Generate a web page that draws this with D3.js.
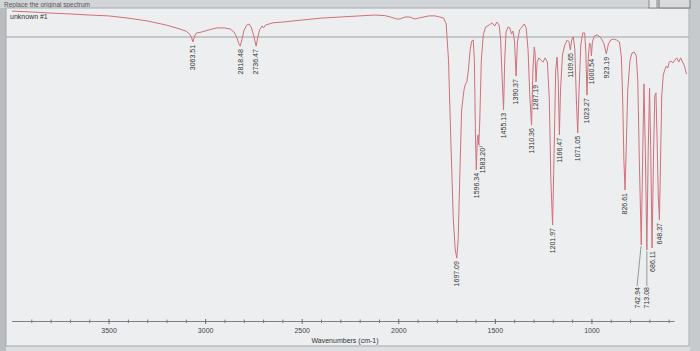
<!DOCTYPE html>
<html>
<head>
<meta charset="utf-8">
<script src="https://cdn.jsdelivr.net/npm/d3@7"></script>
<style>
  body { margin: 0; background: #dcdfe1; }
  svg { display: block; font-family: "Liberation Sans", Arial, sans-serif; }
</style>
</head>
<body>
<svg id="chart" width="700" height="351"></svg>
<script>
// spectrum: wavenumber (cm-1) and %T
const wavenumbers = [4000,3900,3800,3700,3600,3500,3400,3300,3200,3150,3100,3080,3070,3063,3055,3045,3020,2980,2940,2900,
  2870,2850,2835,2825,2818,2810,2800,2785,2772,2760,2748,2736,2728,2718,2705,2698,2688,2650,2600,2500,
  2400,2300,2200,2120,2070,2040,2010,1990,1965,1940,1915,1895,1870,1840,1810,1785,1765,1752,1740,1728,
  1715,1705,1697,1690,1682,1672,1660,1652,1645,1637,1628,1620,1612,1606,1600,1596,1591,1587,1583,1578,
  1570,1560,1548,1530,1515,1500,1490,1478,1470,1463,1455,1449,1442,1432,1422,1414,1406,1398,1390,1383,
  1372,1360,1348,1338,1328,1318,1310,1303,1296,1292,1287,1281,1272,1262,1250,1240,1228,1218,1210,1201,
  1193,1185,1178,1172,1166,1160,1150,1138,1125,1116,1109,1102,1094,1086,1078,1071,1064,1055,1045,1035,
  1029,1023,1017,1010,1004,1000,995,985,970,955,945,935,923,912,900,885,870,855,845,838,
  832,826,820,812,800,790,778,768,760,752,742,735,728,721,713,706,699,693,686,679,
  672,666,660,654,648,642,636,628,620,612,605,597,588,578,568,558,548,538,528,518,508];

const transmittance = [99.6,99.3,98.9,98.6,98.2,97.9,97.1,96.1,94.6,93.6,92.5,91.4,90.0,88.6,90.7,91.8,92.1,92.9,93.6,93.6,
  93.2,92.1,90.0,87.9,87.1,89.3,92.5,94.6,95.0,93.6,90.7,87.1,90.0,92.9,94.3,93.6,94.6,95.4,95.7,96.4,
  97.1,97.5,97.9,98.2,98.0,97.5,96.8,96.8,97.5,97.5,96.8,97.1,97.5,97.9,97.9,97.5,97.1,95.0,82.1,53.6,
  25.0,14.3,11.4,17.9,39.3,64.3,71.4,73.6,74.3,78.6,85.7,88.9,89.3,82.1,53.6,42.9,53.6,55.4,51.8,60.7,
  82.1,91.1,93.9,94.6,95.4,94.3,95.7,94.6,89.3,76.8,64.3,82.1,92.1,93.9,93.6,91.4,92.5,88.6,76.4,88.6,
  92.9,93.9,95.0,93.6,85.7,67.9,58.9,78.6,86.8,85.0,74.3,81.4,82.9,82.1,81.4,82.9,81.4,67.9,39.3,23.2,
  50.0,78.6,83.2,75.0,55.4,71.4,83.9,87.5,89.3,88.6,85.7,89.3,90.4,86.1,67.9,56.1,71.4,87.5,91.8,91.8,
  85.0,69.6,82.1,88.2,87.5,83.6,88.6,90.7,91.1,90.4,89.3,87.9,84.3,87.9,89.3,89.6,89.3,88.6,83.2,67.9,
  46.4,35.7,50.0,71.4,82.1,84.6,85.0,83.6,75.0,46.4,16.1,46.4,73.6,50.0,14.3,50.0,72.1,50.0,15.0,46.4,
  69.3,70.4,53.6,33.9,25.0,46.4,69.3,76.8,78.6,80.0,79.3,81.4,81.8,81.1,82.1,82.9,81.4,82.9,81.4,80.0,77.1];

// labelled peaks
const peakWavenumbers = [3063.51,2818.48,2736.47,1697.09,1596.34,1583.20,1455.13,1390.37,1310.36,1287.19,
  1201.97,1166.47,1109.65,1071.05,1023.27,1000.54,923.19,826.61,742.94,713.08,686.11,648.37];

const majorTicks = [3500,3000,2500,2000,1500,1000];
const minorTicks = [3900,3800,3700,3600,3400,3300,3200,3100,2900,2800,2700,2600,2400,2300,2200,2100,
  1900,1800,1700,1600,1400,1300,1200,1100,900,800,700,600];

const spectrumTitle = "unknown #1";
const windowTitle = "Replace the original spectrum";
const xTitle = "Wavenumbers (cm-1)";

const width = 700, height = 351;
const svg = d3.select("#chart");

// label nudges where OMNIC pushed labels off their peaks
const labelShift = { "1583.20": [4, 0], "742.94": [-4, 287], "713.08": [0, 287] };

// window chrome
svg.append("rect").attr("x", 0).attr("y", 0).attr("width", width).attr("height", 8).attr("fill", "#d2d5d8");
svg.append("text").attr("x", 4).attr("y", 6.5).attr("font-size", 6.5).attr("fill", "#555").text(windowTitle);
svg.append("rect").attr("x", 0).attr("y", 8).attr("width", 6).attr("height", height - 8).attr("fill", "#b9bdc0");
svg.append("rect").attr("x", 6).attr("y", 8).attr("width", 683).attr("height", 338)
  .attr("fill", "#eceef0").attr("stroke", "#a6aaae");
svg.append("rect").attr("x", 690).attr("y", 0).attr("width", 10).attr("height", height).attr("fill", "#c7cacd");
svg.append("rect").attr("x", 649).attr("y", -3).attr("width", 8).attr("height", 11)
  .attr("fill", "#e4e6e8").attr("stroke", "#888");
svg.append("rect").attr("x", 659).attr("y", -3).attr("width", 31).attr("height", 11)
  .attr("fill", "#d8dadc").attr("stroke", "#777");

svg.append("text").attr("x", 10).attr("y", 19).attr("font-size", 7).attr("fill", "#333").text(spectrumTitle);
svg.append("line").attr("x1", 6).attr("x2", 689).attr("y1", 37).attr("y2", 37)
  .attr("stroke", "#9ea2a6").attr("stroke-width", 1);

const x = d3.scaleLinear().domain([4000, 500]).range([12, 688]);
const y = d3.scaleLinear().domain([0, 100]).range([290, 10]);

// x axis
const axisY = 321;
svg.append("g")
  .attr("transform", `translate(0,${axisY})`)
  .call(d3.axisBottom(x).tickValues(minorTicks).tickSize(2).tickSizeOuter(0).tickFormat(""))
  .call(g => g.select(".domain").remove())
  .call(g => g.selectAll(".tick line").attr("y1", -1.5).attr("stroke", "#777"));

svg.append("g")
  .attr("transform", `translate(0,${axisY})`)
  .call(d3.axisBottom(x).tickValues(majorTicks).tickSize(3).tickSizeOuter(0).tickPadding(4).tickFormat(d3.format("d")))
  .call(g => g.select(".domain").attr("stroke", "#7d8185").attr("d", `M${x(4000)},0.5H${x(570)}`))
  .call(g => g.selectAll(".tick line").attr("y1", -2).attr("stroke", "#666"))
  .call(g => g.selectAll(".tick text").attr("font-size", 7).attr("fill", "#444").attr("font-family", "Liberation Sans"));

svg.append("text")
  .attr("x", 345).attr("y", 343)
  .attr("text-anchor", "middle")
  .attr("font-size", 7).attr("fill", "#333")
  .text(xTitle);

// spectrum
const points = wavenumbers.map((w, i) => ({ w: w, t: transmittance[i] }));
const line = d3.line().x(d => x(d.w)).y(d => y(d.t));

svg.append("path")
  .datum(points)
  .attr("fill", "none")
  .attr("stroke", "#cf717a")
  .attr("stroke-width", 1)
  .attr("stroke-linejoin", "round")
  .attr("d", line);

// peak labels
const peaks = peakWavenumbers.map(w => {
  const nearest = points.reduce((a, b) => Math.abs(b.w - w) < Math.abs(a.w - w) ? b : a);
  return { w: w, label: w.toFixed(2), t: nearest.t };
});

const pk = svg.append("g");
peaks.forEach(p => {
  const px = x(p.w), py = y(p.t);
  const shift = labelShift[p.label] || [0, 0];
  const lx = px + shift[0];
  const ly = shift[1] ? shift[1] : py + 3;
  if (shift[1] || shift[0]) {
    pk.append("line")
      .attr("x1", px).attr("y1", py + 1)
      .attr("x2", lx).attr("y2", ly - 1)
      .attr("stroke", "#6d7175").attr("stroke-width", 0.7);
  }
  pk.append("text")
    .attr("transform", `translate(${lx},${ly}) rotate(-90)`)
    .attr("text-anchor", "end")
    .attr("dy", "0.35em")
    .attr("font-size", 7)
    .attr("fill", "#333")
    .text(p.label);
});
</script>
</body>
</html>
